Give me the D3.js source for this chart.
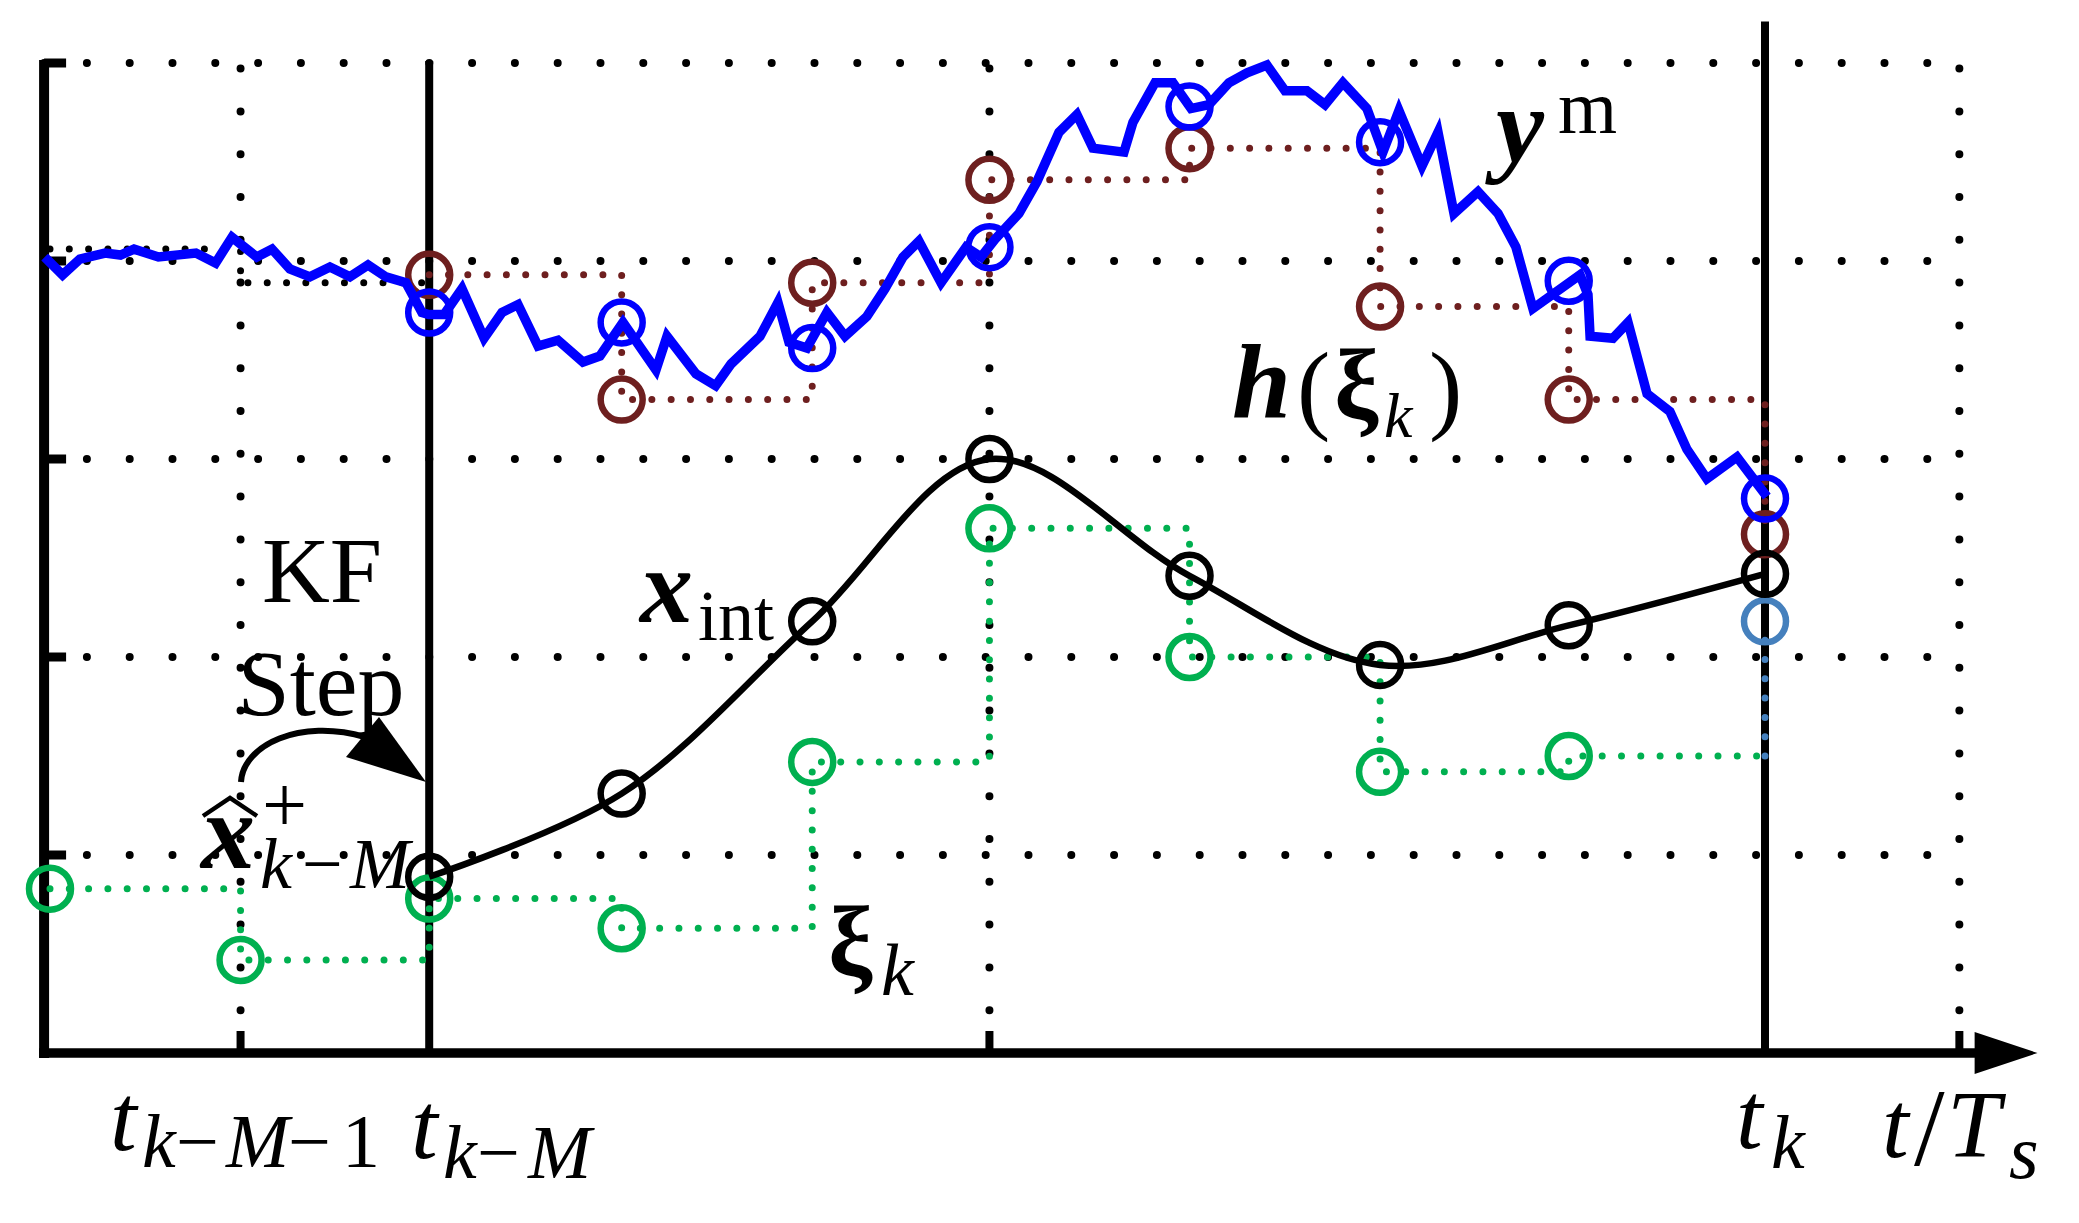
<!DOCTYPE html>
<html>
<head>
<meta charset="utf-8">
<script src="https://cdn.jsdelivr.net/npm/d3@7"></script>
<style>
  body { margin: 0; background: #fff; }
  svg { display: block; }
  text { font-family: "Liberation Serif", "Times New Roman", serif; fill: #000; }
</style>
</head>
<body>
<div id="chart"></div>
<script>
// time of each sample, in units of Ts (t_{k-M-2} ... t_k)
var sampleT = [0, 1, 1.99, 3, 4, 4.93, 5.98, 6.98, 7.97, 9];
var gridX = [1, 4.93, 10.02];
var gridY = [1, 2, 3, 4, 5];
var windowT = [1.99, 9]; // t_{k-M} and t_k

// xi_k, green stairs, samples 0..8
var xiValues = [0.83, 0.47, 0.78, 0.63, 1.47, 2.65, 2.0, 1.42, 1.50];
var xiPredict = 2.18; // steel blue point at t_k
// x_int, black, samples 2..9
var xintValues = [0.89, 1.31, 2.18, 3.0, 2.41, 1.96, 2.16, 2.42];
// h(xi_k), brown, samples 2..9
var hValues = [3.93, 3.30, 3.89, 4.41, 4.57, 3.77, 3.30, 2.62];
var hPrior = [4.06, 3.89]; // samples 0..1, drawn black
// y^m at the samples 2..9
var ymSamples = [3.74, 3.69, 3.56, 4.07, 4.78, 4.60, 3.90, 2.80];
// y^m measured signal [t, value]
var ymLine = [
  [-0.028, 4.02], [0.066, 3.93], [0.157, 4.01], [0.289, 4.04], [0.370, 4.03], [0.441, 4.06],
  [0.569, 4.02], [0.766, 4.04], [0.869, 3.99], [0.955, 4.12], [1.085, 4.02], [1.165, 4.06],
  [1.259, 3.96], [1.364, 3.92], [1.469, 3.97], [1.574, 3.92], [1.669, 3.98], [1.763, 3.92],
  [1.868, 3.89], [1.952, 3.74], [1.987, 3.73], [2.068, 3.73], [2.162, 3.86], [2.278, 3.61],
  [2.372, 3.74], [2.456, 3.78], [2.561, 3.57], [2.666, 3.60], [2.797, 3.49], [2.886, 3.52],
  [3.007, 3.69], [3.180, 3.45], [3.238, 3.62], [3.390, 3.43], [3.493, 3.37], [3.574, 3.48],
  [3.726, 3.62], [3.820, 3.79], [3.878, 3.59], [3.972, 3.56], [4.077, 3.74], [4.172, 3.62],
  [4.287, 3.72], [4.382, 3.86], [4.476, 4.02], [4.560, 4.10], [4.676, 3.89], [4.807, 4.07],
  [4.886, 4.02], [4.959, 4.11], [5.085, 4.24], [5.179, 4.40], [5.295, 4.65], [5.389, 4.74],
  [5.473, 4.57], [5.636, 4.55], [5.683, 4.70], [5.799, 4.90], [5.893, 4.90], [5.988, 4.77],
  [6.082, 4.79], [6.187, 4.90], [6.282, 4.95], [6.386, 4.99], [6.481, 4.86], [6.596, 4.86],
  [6.691, 4.79], [6.785, 4.90], [6.911, 4.77], [6.995, 4.55], [7.079, 4.76], [7.200, 4.48],
  [7.284, 4.65], [7.368, 4.24], [7.494, 4.35], [7.599, 4.24], [7.693, 4.07], [7.782, 3.76],
  [8.029, 3.93], [8.071, 3.83], [8.082, 3.62], [8.202, 3.61], [8.281, 3.69], [8.381, 3.33],
  [8.501, 3.24], [8.590, 3.05], [8.695, 2.90], [8.853, 3.01], [9.010, 2.81]
];

var colBlue = '#0000ff';
var colBrown = '#6e1f1f';
var colGreen = '#00b050';
var colSteel = '#4580bd';

var width = 2079, height = 1223;
var x = d3.scaleLinear().domain([0, 9]).range([50, 1765]);
var y = d3.scaleLinear().domain([0, 5]).range([1053, 63]);

var svg = d3.select('#chart').append('svg').attr('width', width).attr('height', height);

var x0 = x(-0.031);

// dotted grid
svg.append('g').selectAll('line').data(gridY).enter().append('line')
  .attr('x1', x0).attr('x2', x(10.02))
  .attr('y1', function(d) { return y(d); }).attr('y2', function(d) { return y(d); })
  .attr('stroke', '#000').attr('stroke-width', 8)
  .attr('stroke-linecap', 'round').attr('stroke-dasharray', '0 42.8');
svg.append('g').selectAll('line').data(gridX).enter().append('line')
  .attr('x1', function(d) { return x(d); }).attr('x2', function(d) { return x(d); })
  .attr('y1', y(0)).attr('y2', y(5))
  .attr('stroke', '#000').attr('stroke-width', 8)
  .attr('stroke-linecap', 'round').attr('stroke-dasharray', '0 42.8');

// window borders t_{k-M}, t_k
svg.append('line').attr('x1', x(windowT[0])).attr('x2', x(windowT[0]))
  .attr('y1', y(0)).attr('y2', y(5.01)).attr('stroke', '#000').attr('stroke-width', 8);
svg.append('line').attr('x1', x(windowT[1])).attr('x2', x(windowT[1]))
  .attr('y1', y(0)).attr('y2', y(5.21)).attr('stroke', '#000').attr('stroke-width', 8);

// axes
svg.append('line').attr('x1', x0).attr('x2', x0).attr('y1', y(0) + 5).attr('y2', y(5.015))
  .attr('stroke', '#000').attr('stroke-width', 10);
svg.append('line').attr('x1', x0 - 5).attr('x2', x(10.13)).attr('y1', y(0)).attr('y2', y(0))
  .attr('stroke', '#000').attr('stroke-width', 9.5);
svg.append('path')
  .attr('d', 'M' + x(10.1) + ',' + (y(0) - 21) + 'L' + x(10.43) + ',' + y(0) + 'L' + x(10.1) + ',' + (y(0) + 21) + 'Z')
  .attr('fill', '#000');
svg.append('g').selectAll('line').data(gridY).enter().append('line')
  .attr('x1', x0).attr('x2', x0 + 22)
  .attr('y1', function(d) { return y(d); }).attr('y2', function(d) { return y(d); })
  .attr('stroke', '#000').attr('stroke-width', 9);
svg.append('g').selectAll('line').data(gridX).enter().append('line')
  .attr('x1', function(d) { return x(d); }).attr('x2', function(d) { return x(d); })
  .attr('y1', y(0)).attr('y2', y(0) - 22)
  .attr('stroke', '#000').attr('stroke-width', 8);

// stairs
function stairPts(ts, vs, endT) {
  var pts = ts.map(function(t, i) { return [t, vs[i]]; });
  if (endT != null) pts.push([endT, vs[vs.length - 1]]);
  return pts;
}
var stepLine = d3.line().x(function(d) { return x(d[0]); }).y(function(d) { return y(d[1]); })
  .curve(d3.curveStepAfter);
function drawStairs(pts, color) {
  svg.append('path').attr('d', stepLine(pts)).attr('fill', 'none')
    .attr('stroke', color).attr('stroke-width', 7)
    .attr('stroke-linecap', 'round').attr('stroke-dasharray', '0 19.3');
}
drawStairs(stairPts(sampleT.slice(0, 9), xiValues, sampleT[9]), colGreen);
drawStairs(stairPts(sampleT.slice(0, 2), hPrior, sampleT[2]), '#000');
drawStairs(stairPts(sampleT.slice(2), hValues), colBrown);
drawStairs([[sampleT[9], xiValues[8]], [sampleT[9], xiPredict]], colSteel);

function drawCircles(ts, vs, color) {
  svg.append('g').selectAll('circle').data(vs).enter().append('circle')
    .attr('cx', function(d, i) { return x(ts[i]); })
    .attr('cy', function(d) { return y(d); })
    .attr('r', 21).attr('fill', 'none')
    .attr('stroke', color).attr('stroke-width', 6.5);
}
drawCircles(sampleT, xiValues, colGreen);
drawCircles(sampleT.slice(2), hValues, colBrown);
drawCircles([sampleT[9]], [xiPredict], colSteel);

// x_int smooth curve
var smooth = d3.line().x(function(d, i) { return x(sampleT[i + 2]); }).y(function(d) { return y(d); })
  .curve(d3.curveCatmullRom.alpha(0.5));
svg.append('path').attr('d', smooth(xintValues)).attr('fill', 'none')
  .attr('stroke', '#000').attr('stroke-width', 6.5);
drawCircles(sampleT.slice(2), xintValues, '#000');

// y^m
var lin = d3.line().x(function(d) { return x(d[0]); }).y(function(d) { return y(d[1]); });
svg.append('path').attr('d', lin(ymLine)).attr('fill', 'none')
  .attr('stroke', colBlue).attr('stroke-width', 9.5)
  .attr('stroke-linejoin', 'miter').attr('stroke-miterlimit', 4);
drawCircles(sampleT.slice(2), ymSamples, colBlue);

// KF step arrow
svg.append('path').attr('d', 'M241,782 C243,745 300,718 365,737')
  .attr('fill', 'none').attr('stroke', '#000').attr('stroke-width', 6);
svg.append('path').attr('d', 'M346,757 L379,717 L426,782 Z').attr('fill', '#000');

// text pieces: [string, x, baseline, size, weight, style]
function put(parts, anchor) {
  var t = svg.append('text').attr('text-anchor', anchor || 'start');
  parts.forEach(function(p) {
    t.append('tspan').attr('x', p[1]).attr('y', p[2])
      .attr('font-size', p[3]).attr('font-weight', p[4] || 'normal')
      .attr('font-style', p[5] || 'normal').text(p[0]);
  });
}
put([['KF', 322, 602, 94], ['Step', 321, 715, 94]], 'middle');
put([['y', 1496, 162, 108, 'bold', 'italic'], ['m', 1558, 133, 76]]);
put([['h', 1232, 418, 106, 'bold', 'italic'], ['(', 1297, 421, 100], ['\u03be', 1334, 418, 100, 'bold'],
     ['k', 1384, 437, 64, 'normal', 'italic'], [')', 1429, 421, 100]]);
put([['x', 640, 622, 106, 'bold', 'italic'], ['int', 698, 640, 72]]);
put([['x', 201, 868, 108, 'bold', 'italic'], ['+', 262, 832, 80],
     ['k', 260, 888, 72, 'normal', 'italic'], ['\u2212', 302, 888, 72], ['M', 350, 888, 72, 'normal', 'italic']]);
svg.append('path').attr('d', 'M203,816 L230,798 L257,816').attr('fill', 'none')
  .attr('stroke', '#000').attr('stroke-width', 4.5);
put([['\u03be', 828, 975, 100, 'bold'], ['k', 881, 995, 74, 'normal', 'italic']]);

// tick labels
put([['t', 110, 1150, 96, 'normal', 'italic'], ['k', 142, 1167, 76, 'normal', 'italic'],
     ['\u2212', 176, 1167, 76], ['M', 226, 1167, 76, 'normal', 'italic'], ['\u2212', 288, 1167, 76],
     ['1', 342, 1167, 76]]);
put([['t', 411, 1158, 96, 'normal', 'italic'], ['k', 443, 1178, 76, 'normal', 'italic'],
     ['\u2212', 477, 1178, 76], ['M', 528, 1178, 76, 'normal', 'italic']]);
put([['t', 1736, 1148, 96, 'normal', 'italic'], ['k', 1771, 1168, 76, 'normal', 'italic']]);
put([['t', 1882, 1157, 96, 'normal', 'italic'], ['/', 1914, 1165, 110], ['T', 1947, 1157, 96, 'normal', 'italic'],
     ['s', 2009, 1178, 76, 'normal', 'italic']]);
</script>
</body>
</html>
